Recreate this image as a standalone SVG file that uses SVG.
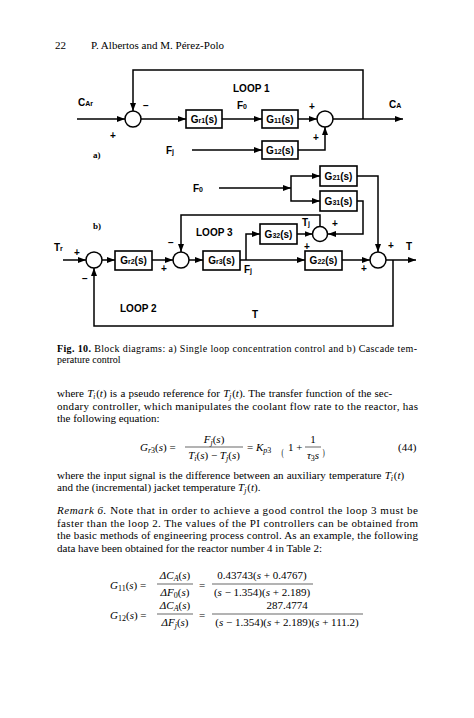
<svg xmlns="http://www.w3.org/2000/svg" width="474" height="718" viewBox="0 0 474 718">
<defs>
<marker id="ar" markerUnits="userSpaceOnUse" markerWidth="8" markerHeight="6" refX="8" refY="3" orient="auto"><path d="M0,0 L8,3 L0,6 z" fill="#000"/></marker>
</defs>
<style>
.b{fill:#fff;stroke:#000;stroke-width:1.6}
.c{fill:#fff;stroke:#000;stroke-width:1.5}
.w{fill:none;stroke:#000;stroke-width:1.5;marker-end:url(#ar)}
.l{font-family:"Liberation Sans",Arial,sans-serif;font-weight:bold;font-size:10px;fill:#000}
.s{font-size:7px}
.t{font-family:"Liberation Serif","Times New Roman",serif;font-size:11px;fill:#000}
.cap{font-family:"Liberation Serif","Times New Roman",serif;font-size:10px;fill:#000}
.i{font-style:italic}
.bar{stroke:#000;stroke-width:0.6}
</style>
<rect width="474" height="718" fill="#fff"/>
<g id="header">
<text class="t" x="55" y="49">22</text>
<text class="t" x="91" y="49" textLength="133">P. Albertos and M. Pérez-Polo</text>
</g>
<g id="connectors">
<path class="w" d="M77,119 H125"/>
<path class="w" d="M363,119 V70 H133 V111"/>
<path class="w" d="M141,119 H186"/>
<path class="w" d="M222,119 H262"/>
<path class="w" d="M298,119 H317"/>
<path class="w" d="M333,119 H403"/>
<path class="w" d="M192,150 H262"/>
<path class="w" d="M298,150 H325 V127"/>
<path class="w" d="M219,188 H291"/>
<path class="w" d="M291,188 V176 H320"/>
<path class="w" d="M291,188 V201 H320"/>
<path class="w" d="M357,176 H378 V252"/>
<path class="w" d="M357,201 H363 V234 H328"/>
<path class="w" d="M320,226.5 V215 H181 V252"/>
<path class="w" d="M63,260 H86"/>
<path class="w" d="M102,260 H115"/>
<path class="w" d="M152,260 H173"/>
<path class="w" d="M189,260 H203"/>
<path class="w" d="M240,260 H305"/>
<path class="w" d="M246,260 V234 H260"/>
<path class="w" d="M297,234 H312.5"/>
<path class="w" d="M342,260 H370"/>
<path class="w" d="M386,260 H416"/>
<path class="w" d="M393,260 V326 H94 V268"/>
</g>
<g id="sum_a1"><circle class="c" cx="133" cy="119" r="8"/></g>
<g id="Gr1"><rect class="b" x="186" y="110" width="36" height="18"/><text class="l" x="204" y="123" text-anchor="middle">G<tspan class="s">r1</tspan>(s)</text></g>
<g id="G11"><rect class="b" x="262" y="110" width="36" height="18"/><text class="l" x="280" y="123" text-anchor="middle">G<tspan class="s">11</tspan>(s)</text></g>
<g id="G12"><rect class="b" x="262" y="141" width="36" height="18"/><text class="l" x="280" y="154" text-anchor="middle">G<tspan class="s">12</tspan>(s)</text></g>
<g id="sum_a2"><circle class="c" cx="325" cy="119" r="8"/></g>
<g id="labels_a">
<text class="l" x="78" y="106">C<tspan class="s">Ar</tspan></text>
<text class="l" x="143" y="109">−</text>
<text class="l" x="110" y="139">+</text>
<text class="l" x="93" y="158" style="font-family:'Liberation Serif',serif;font-size:9px">a)</text>
<text class="l" x="233" y="92">LOOP 1</text>
<text class="l" x="237" y="109">F<tspan class="s">0</tspan></text>
<text class="l" x="309" y="110">+</text>
<text class="l" x="313" y="141">+</text>
<text class="l" x="389" y="108">C<tspan class="s">A</tspan></text>
<text class="l" x="166" y="154">F<tspan class="s">j</tspan></text>
</g>
<g id="G21"><rect class="b" x="320" y="166" width="37" height="20"/><text class="l" x="338.5" y="180" text-anchor="middle">G<tspan class="s">21</tspan>(s)</text></g>
<g id="G31"><rect class="b" x="320" y="191" width="37" height="20"/><text class="l" x="338.5" y="205" text-anchor="middle">G<tspan class="s">31</tspan>(s)</text></g>
<g id="G32"><rect class="b" x="260" y="224" width="37" height="20"/><text class="l" x="278.5" y="238" text-anchor="middle">G<tspan class="s">32</tspan>(s)</text></g>
<g id="sum_Tj"><circle class="c" cx="320" cy="234" r="7.5"/></g>
<g id="sum_b1"><circle class="c" cx="94" cy="260" r="8"/></g>
<g id="Gr2"><rect class="b" x="115" y="251" width="37" height="19"/><text class="l" x="133.5" y="264" text-anchor="middle">G<tspan class="s">r2</tspan>(s)</text></g>
<g id="sum_b2"><circle class="c" cx="181" cy="260" r="8"/></g>
<g id="Gr3"><rect class="b" x="203" y="251" width="37" height="19"/><text class="l" x="221.5" y="264" text-anchor="middle">G<tspan class="s">r3</tspan>(s)</text></g>
<g id="G22"><rect class="b" x="305" y="251" width="37" height="19"/><text class="l" x="323.5" y="264" text-anchor="middle">G<tspan class="s">22</tspan>(s)</text></g>
<g id="sum_b3"><circle class="c" cx="378" cy="260" r="8"/></g>
<g id="labels_b">
<text class="l" x="193" y="192">F<tspan class="s">0</tspan></text>
<text class="l" x="93" y="229" style="font-family:'Liberation Serif',serif;font-size:9px">b)</text>
<text class="l" x="54" y="251">T<tspan class="s">r</tspan></text>
<text class="l" x="74" y="256">+</text>
<text class="l" x="82" y="282">−</text>
<text class="l" x="161" y="272">+</text>
<text class="l" x="168" y="246">−</text>
<text class="l" x="196" y="236">LOOP 3</text>
<text class="l" x="302" y="226">T<tspan class="s">j</tspan></text>
<text class="l" x="332" y="227">+</text>
<text class="l" x="304" y="250">+</text>
<text class="l" x="244" y="273">F<tspan class="s">j</tspan></text>
<text class="l" x="361" y="272">+</text>
<text class="l" x="388" y="249">+</text>
<text class="l" x="406" y="250">T</text>
<text class="l" x="120" y="312">LOOP 2</text>
<text class="l" x="252" y="318">T</text>
</g>
<g id="caption">
<text class="cap" x="57" y="352" textLength="360"><tspan font-weight="bold">Fig. 10.</tspan> Block diagrams: a) Single loop concentration control and b) Cascade tem-</text>
<text class="cap" x="57" y="363">perature control</text>
</g>
<g id="body">
<text class="t" x="57" y="397" font-size="10.7" word-spacing="0.5">where <tspan class="i">T</tspan><tspan class="i" font-size="7.5" dy="1.5">i</tspan><tspan dy="-1.5" dx="0.8">(</tspan><tspan class="i">t</tspan>) is a pseudo reference for <tspan class="i">T</tspan><tspan class="i" font-size="7.5" dy="1.5">j</tspan><tspan dy="-1.5" dx="0.8">(</tspan><tspan class="i">t</tspan>). The transfer function of the sec-</text>
<text class="t" x="57" y="409.5" textLength="361">ondary controller, which manipulates the coolant flow rate to the reactor, has</text>
<text class="t" x="57" y="421.5">the following equation:</text>
<text class="t" x="57" y="479" font-size="10.7" word-spacing="0.4">where the input signal is the difference between an auxiliary temperature <tspan class="i">T</tspan><tspan class="i" font-size="8" dy="2">i</tspan><tspan dy="-2" dx="0.8">(</tspan><tspan class="i">t</tspan>)</text>
<text class="t" x="57" y="491">and the (incremental) jacket temperature <tspan class="i">T</tspan><tspan class="i" font-size="8" dy="2">j</tspan><tspan dy="-2" dx="0.8">(</tspan><tspan class="i">t</tspan>).</text>
<text class="t" x="57" y="514" textLength="361"><tspan class="i">Remark 6.</tspan> Note that in order to achieve a good control the loop 3 must be</text>
<text class="t" x="57" y="526.5" textLength="361">faster than the loop 2. The values of the PI controllers can be obtained from</text>
<text class="t" x="57" y="539" textLength="361">the basic methods of engineering process control. As an example, the following</text>
<text class="t" x="57" y="551.5">data have been obtained for the reactor number 4 in Table 2:</text>
</g>
<g id="eq44">
<text class="t" x="140" y="451"><tspan class="i">G</tspan><tspan class="i" font-size="8" dy="2">r</tspan><tspan font-size="8">3</tspan><tspan dy="-2">(</tspan><tspan class="i">s</tspan>) =</text>
<text class="t" x="214" y="443" text-anchor="middle"><tspan class="i">F</tspan><tspan class="i" font-size="8" dy="2">j</tspan><tspan dy="-2">(</tspan><tspan class="i">s</tspan>)</text>
<line class="bar" x1="185" y1="447" x2="243" y2="447"/>
<text class="t" x="214" y="459" text-anchor="middle"><tspan class="i">T</tspan><tspan class="i" font-size="8" dy="2">i</tspan><tspan dy="-2">(</tspan><tspan class="i">s</tspan>) − <tspan class="i">T</tspan><tspan class="i" font-size="8" dy="2">j</tspan><tspan dy="-2">(</tspan><tspan class="i">s</tspan>)</text>
<text class="t" x="247" y="451">= <tspan class="i">K</tspan><tspan font-size="8" dy="2"><tspan class="i">p</tspan>3</tspan></text>
<text class="t" transform="translate(281.5,456) scale(0.6,1)" font-size="27">(</text>
<text class="t" x="288" y="451">1 +</text>
<text class="t" x="313" y="443" text-anchor="middle">1</text>
<line class="bar" x1="305" y1="447" x2="321" y2="447"/>
<text class="t" x="313" y="459" text-anchor="middle"><tspan class="i">τ</tspan><tspan font-size="8" dy="2">3</tspan><tspan class="i" dy="-2">s</tspan></text>
<text class="t" transform="translate(322.5,456) scale(0.6,1)" font-size="27">)</text>
<text class="t" x="398" y="451">(44)</text>
</g>
<g id="eqG11">
<text class="t" x="110" y="589"><tspan class="i">G</tspan><tspan font-size="8" dy="2">11</tspan><tspan dy="-2">(</tspan><tspan class="i">s</tspan>) =</text>
<text class="t" x="175" y="579" text-anchor="middle"><tspan class="i">ΔC</tspan><tspan class="i" font-size="8" dy="2">A</tspan><tspan dy="-2">(</tspan><tspan class="i">s</tspan>)</text>
<line class="bar" x1="157" y1="584" x2="193" y2="584"/>
<text class="t" x="175" y="596" text-anchor="middle"><tspan class="i">ΔF</tspan><tspan font-size="8" dy="2">0</tspan><tspan dy="-2">(</tspan><tspan class="i">s</tspan>)</text>
<text class="t" x="199" y="589">=</text>
<text class="t" x="262" y="579" text-anchor="middle">0.43743(<tspan class="i">s</tspan> + 0.4767)</text>
<line class="bar" x1="212" y1="584" x2="313" y2="584"/>
<text class="t" x="262" y="596" text-anchor="middle">(<tspan class="i">s</tspan> − 1.354)(<tspan class="i">s</tspan> + 2.189)</text>
</g>
<g id="eqG12">
<text class="t" x="110" y="619"><tspan class="i">G</tspan><tspan font-size="8" dy="2">12</tspan><tspan dy="-2">(</tspan><tspan class="i">s</tspan>) =</text>
<text class="t" x="175" y="609" text-anchor="middle"><tspan class="i">ΔC</tspan><tspan class="i" font-size="8" dy="2">A</tspan><tspan dy="-2">(</tspan><tspan class="i">s</tspan>)</text>
<line class="bar" x1="157" y1="614" x2="193" y2="614"/>
<text class="t" x="175" y="626" text-anchor="middle"><tspan class="i">ΔF</tspan><tspan class="i" font-size="8" dy="2">j</tspan><tspan dy="-2">(</tspan><tspan class="i">s</tspan>)</text>
<text class="t" x="199" y="619">=</text>
<text class="t" x="287" y="609" text-anchor="middle">287.4774</text>
<line class="bar" x1="212" y1="614" x2="363" y2="614"/>
<text class="t" x="287" y="626" text-anchor="middle">(<tspan class="i">s</tspan> − 1.354)(<tspan class="i">s</tspan> + 2.189)(<tspan class="i">s</tspan> + 111.2)</text>
</g>
</svg>
